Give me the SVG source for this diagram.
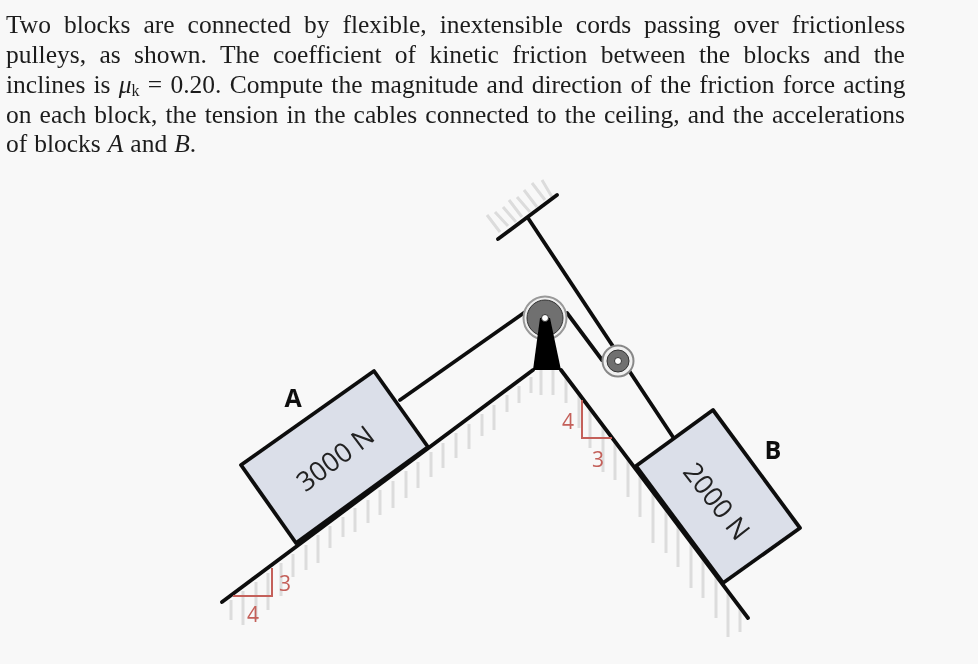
<svg xmlns="http://www.w3.org/2000/svg" width="978" height="664" viewBox="0 0 978 664">
<style>
.q{font-family:"Liberation Serif","Times New Roman",serif;font-size:25.5px;fill:#1c1c1c}
.i{font-style:italic}
.ln{fill:none;stroke:#111;stroke-width:3.8;stroke-linecap:round}
.h{fill:none;stroke:#dcdcdc;stroke-width:3}
.blk{fill:#dbdfe9;stroke:#111;stroke-width:3.8;stroke-linejoin:round}
.red{fill:none;stroke:#c4605a;stroke-width:2}
.rt{font-family:"Open Sans","Liberation Sans",sans-serif;font-size:21px;fill:#c4605a;text-anchor:middle}
.bt{font-family:"Open Sans","Liberation Sans",sans-serif;font-size:27px;fill:#222;text-anchor:middle}
.lb{font-family:"Open Sans","Liberation Sans",sans-serif;font-size:25px;font-weight:700;fill:#111;text-anchor:middle}
</style>
<defs><filter id="soft" x="-5%" y="-5%" width="110%" height="110%"><feGaussianBlur stdDeviation="0.6"/></filter></defs>
<rect width="978" height="664" fill="#f8f8f8"/>
<g id="problem-text" filter="url(#soft)">
<text class="q" x="6" y="33" word-spacing="6.6">Two blocks are connected by flexible, inextensible cords passing over frictionless</text>
<text class="q" x="6" y="63" word-spacing="7">pulleys, as shown. The coefficient of kinetic friction between the blocks and the</text>
<text class="q" x="6" y="93" word-spacing="1.85">inclines is <tspan class="i">μ</tspan><tspan font-size="16" dy="3">k</tspan><tspan dy="-3"> = 0.20. Compute the magnitude and direction of the friction force acting</tspan></text>
<text class="q" x="6" y="123" word-spacing="1.7">on each block, the tension in the cables connected to the ceiling, and the accelerations</text>
<text class="q" x="6" y="152" word-spacing="0.6">of blocks <tspan class="i">A</tspan> and <tspan class="i">B</tspan>.</text>
</g>
<g id="diagram" filter="url(#soft)">
<g id="hatching">
<path class="h" d="M231 600V620M243 591V625M256 582V620M268 573V610M281 563V596M293 554V577M306 545V570M318 535V563M330 526V548M343 517V537M355 508V532M368 500V523M380 490V515M393 481V508M406 471V498M418 462V488M431 452V477M443 443V468M456 433V458M469 424V449M482 414V436M494 405V430M507 395V412M519 386V403M531 377V393M541 370V395M553 370V395M566 376V403"/>
<path class="h" d="M579 394V428M590 409V448M603 426V472M615 443V480M628 460V497M640 476V517M653 493V543M666 510V553M678 526V567M691 543V588M703 559V598M716 576V618M728 591V637M740 608V632"/>
<path class="h" d="M500 232L487 215M508 226L495 212M516 222L503 207M522 217L509 200M530 212L517 197M537 207L524 190M545 200L532 183M552 197L542 180" stroke-width="2"/>
</g>
<g id="connectors">
<path class="ln" d="M498 239L557 195"/>
<path class="ln" d="M528 218L673 437"/>
<path class="ln" d="M400 400L528 310"/>
<path class="ln" d="M567 313L602 360"/>
<path class="ln" d="M222 602L533 370"/>
<path class="ln" d="M561 370L748 618"/>
</g>
<g id="slope-triangles">
<path class="red" d="M233 596H272V568"/>
<text class="rt" x="285" y="591">3</text>
<text class="rt" x="253" y="622">4</text>
<path class="red" d="M582 400V438H612"/>
<text class="rt" x="568" y="429">4</text>
<text class="rt" x="598" y="467">3</text>
</g>
<g id="block-a">
<path class="blk" d="M296 543L428 447L374 371L241 465Z"/>
<text class="bt" transform="translate(335 458) rotate(-37)" y="10">3000 N</text>
<text class="lb" x="293" y="407">A</text>
</g>
<g id="block-b">
<path class="blk" d="M636 466L713 410L800 528L723 583Z"/>
<text class="bt" transform="translate(717 501) rotate(52)" y="10">2000 N</text>
<text class="lb" x="773" y="459">B</text>
</g>
<g id="pulley-large">
<circle cx="545" cy="318" r="21.5" fill="#f0f0f0" stroke="#999" stroke-width="2"/>
<circle cx="545" cy="318" r="18" fill="#6f6f6f" stroke="#333"/>
<path d="M540 318H550L561 370H533Z" fill="#000"/>
<circle cx="545" cy="318" r="3.5" fill="#fff" stroke="#333"/>
</g>
<g id="pulley-small">
<circle cx="618" cy="361" r="15.5" fill="#f0f0f0" stroke="#888" stroke-width="2"/>
<circle cx="618" cy="361" r="11" fill="#6f6f6f" stroke="#333"/>
<circle cx="618" cy="361" r="3.5" fill="#fff" stroke="#333"/>
</g>
</g>
</svg>
